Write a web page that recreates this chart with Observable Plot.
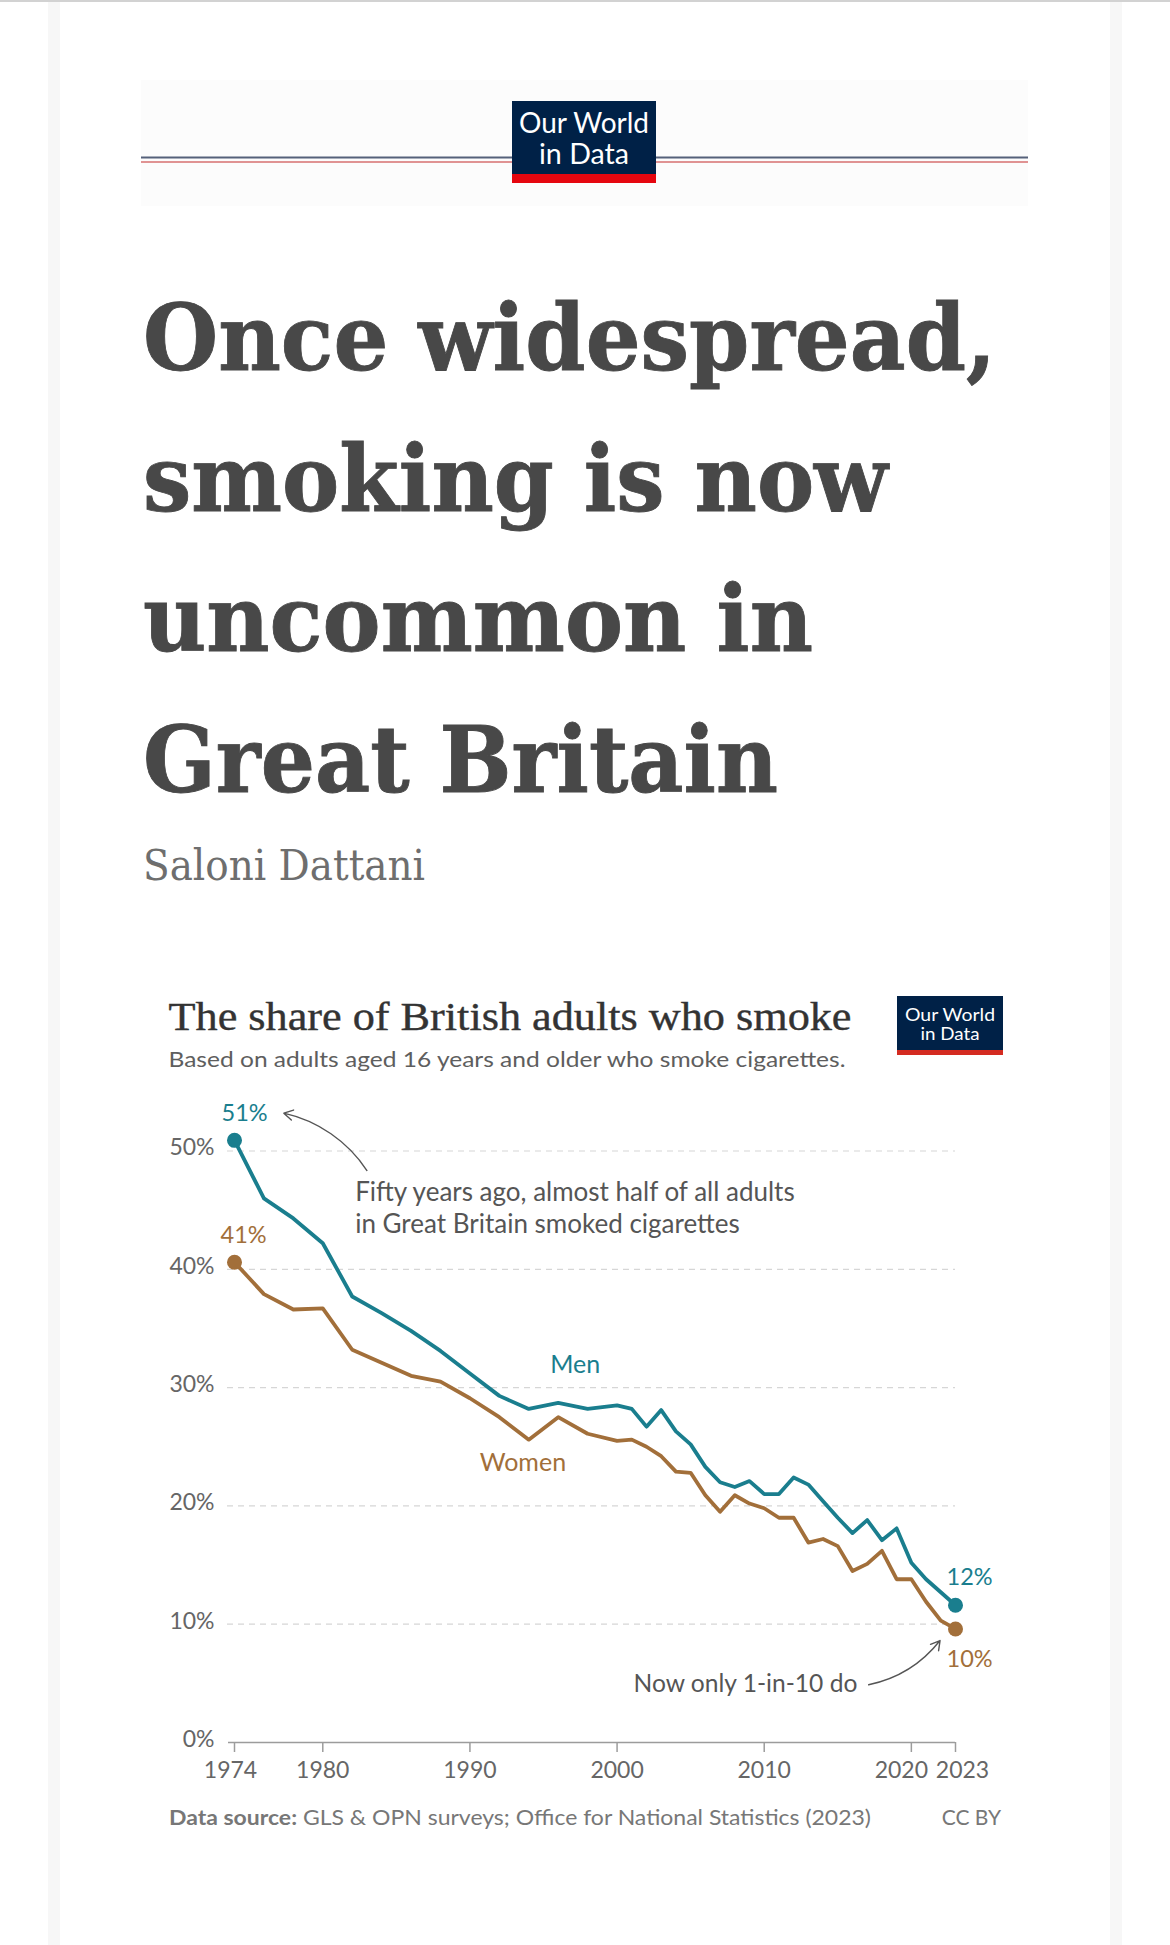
<!DOCTYPE html>
<html>
<head>
<meta charset="utf-8">
<script src="https://cdn.jsdelivr.net/npm/d3@7"></script>
<script src="https://cdn.jsdelivr.net/npm/@observablehq/plot@0.6"></script>
<style>
  html, body { margin: 0; padding: 0; background: #fff; }
  #page { position: relative; width: 1170px; height: 1945px; overflow: hidden; font-family: Lato, sans-serif; }
  #bg { position: absolute; left: 0; top: 0; }
  #chart { position: absolute; left: 150px; top: 1090px; }
</style>
</head>
<body>
<div id="page">
  <svg id="bg" width="1170" height="1945" xmlns="http://www.w3.org/2000/svg">
    <rect x="0" y="0" width="1170" height="2" fill="#d2d2d2"/>
    <rect x="48" y="2" width="12" height="1943" fill="#f7f7f7"/>
    <rect x="1110" y="2" width="12" height="1943" fill="#f7f7f7"/>
    <rect x="141" y="80" width="887" height="126" fill="#fcfcfc"/>
    <line x1="141" x2="1028" y1="157.5" y2="157.5" stroke="#55617a" stroke-width="2"/>
    <line x1="141" x2="1028" y1="162" y2="162" stroke="#d77070" stroke-width="1.6"/>
    <rect x="512" y="101" width="144" height="82" fill="#002147"/>
    <rect x="512" y="174" width="144" height="9" fill="#e5060f"/>
    <text x="584" y="133" text-anchor="middle" font-family="Lato" font-size="28" fill="#fff" textLength="130" lengthAdjust="spacingAndGlyphs">Our World</text>
    <text x="584" y="164" text-anchor="middle" font-family="Lato" font-size="28" fill="#fff" textLength="90" lengthAdjust="spacingAndGlyphs">in Data</text>

    <g font-family="DejaVu Serif" font-weight="bold" font-size="92" fill="#484848" stroke="#484848" stroke-width="0.9">
      <text x="143" y="370" textLength="853" lengthAdjust="spacingAndGlyphs">Once widespread,</text>
      <text x="143" y="511" textLength="745" lengthAdjust="spacingAndGlyphs">smoking is now</text>
      <text x="143" y="651" textLength="670" lengthAdjust="spacingAndGlyphs">uncommon in</text>
      <text x="143" y="792" textLength="635" lengthAdjust="spacingAndGlyphs">Great Britain</text>
    </g>
    <text x="143" y="880" font-family="DejaVu Serif" font-size="42" fill="#6e6e6e" textLength="282" lengthAdjust="spacingAndGlyphs">Saloni Dattani</text>

    <text x="168.5" y="1029.5" font-family="Liberation Serif" font-size="41" fill="#333" stroke="#333" stroke-width="0.4" textLength="683" lengthAdjust="spacingAndGlyphs">The share of British adults who smoke</text>
    <text x="168.5" y="1066.7" font-family="Lato" font-size="21.5" fill="#5e5e5e" textLength="677" lengthAdjust="spacingAndGlyphs">Based on adults aged 16 years and older who smoke cigarettes.</text>

    <rect x="897" y="996" width="106" height="59" fill="#002147"/>
    <rect x="897" y="1050" width="106" height="5" fill="#d42b21"/>
    <text x="950" y="1021" text-anchor="middle" font-family="Lato" font-size="17" fill="#fff" textLength="90" lengthAdjust="spacingAndGlyphs">Our World</text>
    <text x="950" y="1040" text-anchor="middle" font-family="Lato" font-size="17" fill="#fff" textLength="59" lengthAdjust="spacingAndGlyphs">in Data</text>

    <text x="169" y="1825" font-family="Lato" font-size="21" fill="#777" textLength="702" lengthAdjust="spacingAndGlyphs"><tspan font-weight="bold">Data source:</tspan> GLS &amp; OPN surveys; Office for National Statistics (2023)</text>
    <text x="1001" y="1825" text-anchor="end" font-family="Lato" font-size="21" fill="#777">CC BY</text>
  </svg>
  <div id="chart"></div>
</div>
<script>
// ---- data ----
const years = [1974, 1976, 1978, 1980, 1982, 1984, 1986, 1988, 1990, 1992, 1994, 1996, 1998, 2000,
  2001, 2002, 2003, 2004, 2005, 2006, 2007, 2008, 2009, 2010, 2011, 2012, 2013, 2014, 2015, 2016,
  2017, 2018, 2019, 2020, 2021, 2022, 2023];
const menShare = [50.9, 46.0, 44.3, 42.2, 37.7, 36.3, 34.8, 33.1, 31.2, 29.3, 28.2, 28.7, 28.2, 28.5,
  28.2, 26.7, 28.1, 26.3, 25.2, 23.3, 22.0, 21.6, 22.1, 21.0, 21.0, 22.4, 21.8, 20.4, 19.0, 17.7,
  18.8, 17.1, 18.1, 15.2, 13.8, 12.7, 11.6];
const womenShare = [40.6, 37.9, 36.6, 36.7, 33.2, 32.1, 31.0, 30.5, 29.1, 27.5, 25.6, 27.5, 26.1, 25.5,
  25.6, 25.0, 24.2, 22.9, 22.8, 20.9, 19.5, 20.9, 20.2, 19.8, 19.0, 19.0, 16.9, 17.2, 16.6, 14.5,
  15.1, 16.2, 13.8, 13.8, 11.9, 10.3, 9.6];
const seriesNames = ["Men", "Women"];
const xTickYears = [1974, 1980, 1990, 2000, 2010, 2020, 2023];
const yTickValues = [0, 10, 20, 30, 40, 50];

// annotation anchors, in data units (year, percent)
const seriesLabelYears = [1997.15, 1993.6];
const seriesLabelValues = [31.9, 23.6];
const noteTexts = ["Fifty years ago, almost half of all adults\nin Great Britain smoked cigarettes", "Now only 1-in-10 do"];
const noteYears = [1982.2, 2016.33];
const noteValues = [45.3, 4.96];
const arrowFrom = [[1983.0, 48.35], [2017.1, 4.88]];
const arrowTo = [[1977.35, 53.2], [2021.95, 8.62]];

// ---- build ----
const colors = {Men: "#1a7e8e", Women: "#a26f3a"};
const men = years.map((year, i) => ({year, value: menShare[i]}));
const women = years.map((year, i) => ({year, value: womenShare[i]}));
const ends = s => [s[0], s[s.length - 1]];
const pct = d => Math.round(d.value) + "%";

const labelData = seriesNames.map((name, i) => ({name, year: seriesLabelYears[i], value: seriesLabelValues[i]}));
const notes = noteTexts.map((text, i) => ({text, year: noteYears[i], value: noteValues[i]}));
const arrows = arrowFrom.map((f, i) => ({x1: f[0], y1: f[1], x2: arrowTo[i][0], y2: arrowTo[i][1]}));

const chart = Plot.plot({
  width: 850,
  height: 720,
  marginLeft: 84,
  marginRight: 45,
  marginTop: 60.5,
  marginBottom: 68,
  x: {domain: [1974, 2023]},
  y: {domain: [0, 50]},
  style: {fontFamily: "Lato, sans-serif", fontSize: "22px", background: "transparent", overflow: "visible", color: "#666"},
  marks: [
    Plot.gridY(yTickValues.filter(d => d > 0), {stroke: "#d6d6d6", strokeOpacity: 1, strokeDasharray: "6,5", strokeWidth: 1.2, insetLeft: -7}),
    Plot.ruleY([0], {stroke: "#9c9c9c", strokeWidth: 1.5, insetLeft: -6}),
    Plot.axisY(yTickValues, {tickSize: 0, tickPadding: 20, tickFormat: d => d + "%", fontSize: 23, fill: "#666", dy: -3, label: null}),
    Plot.axisX(xTickYears, {tickSize: 10, stroke: "#9c9c9c", strokeWidth: 1.5, tickFormat: () => "", label: null}),
    Plot.text(xTickYears.filter(d => d !== 2020 && d !== 2023 && d !== 1974), {x: d => d, text: d => String(d), frameAnchor: "bottom", dy: 35, fontSize: 23, fill: "#666"}),
    Plot.text([1974], {x: d => d, text: d => String(d), frameAnchor: "bottom", dy: 35, dx: -4, fontSize: 23, fill: "#666"}),
    Plot.text([2020], {x: d => d, text: d => String(d), frameAnchor: "bottom", dy: 35, dx: -10, fontSize: 23, fill: "#666"}),
    Plot.text([2023], {x: d => d, text: d => String(d), frameAnchor: "bottom", dy: 35, dx: 7, fontSize: 23, fill: "#666"}),

    Plot.line(women, {x: "year", y: "value", stroke: colors.Women, strokeWidth: 3.8, strokeLinejoin: "round"}),
    Plot.line(men, {x: "year", y: "value", stroke: colors.Men, strokeWidth: 3.8, strokeLinejoin: "round"}),
    Plot.dot(ends(women), {x: "year", y: "value", r: 7.5, fill: colors.Women}),
    Plot.dot(ends(men), {x: "year", y: "value", r: 7.5, fill: colors.Men}),

    Plot.text([men[0]], {x: "year", y: "value", text: pct, dx: -13, dy: -27, textAnchor: "start", fontSize: 23.5, fill: colors.Men}),
    Plot.text([women[0]], {x: "year", y: "value", text: pct, dx: -14, dy: -27, textAnchor: "start", fontSize: 23.5, fill: colors.Women}),
    Plot.text([men[men.length - 1]], {x: "year", y: "value", text: pct, dx: -9, dy: -28, textAnchor: "start", fontSize: 23.5, fill: colors.Men}),
    Plot.text([women[women.length - 1]], {x: "year", y: "value", text: pct, dx: -9, dy: 31, textAnchor: "start", fontSize: 23.5, fill: colors.Women}),

    Plot.text(labelData, {x: "year", y: "value", text: "name", fill: d => colors[d.name], fontSize: 25, textAnchor: "middle"}),

    Plot.text([notes[0]], {x: "year", y: "value", text: "text", textAnchor: "start", lineAnchor: "middle", lineHeight: 1.22, fontSize: 26, fill: "#555"}),
    Plot.text([notes[1]], {x: "year", y: "value", text: "text", textAnchor: "end", lineAnchor: "middle", fontSize: 24.6, fill: "#555"}),

    Plot.arrow([arrows[0]], {x1: "x1", y1: "y1", x2: "x2", y2: "y2", bend: -22, stroke: "#555", strokeWidth: 1.4, headLength: 11}),
    Plot.arrow([arrows[1]], {x1: "x1", y1: "y1", x2: "x2", y2: "y2", bend: -20, stroke: "#555", strokeWidth: 1.4, headLength: 11})
  ]
});
chart.style.fill = "#666";
document.getElementById("chart").appendChild(chart);
</script>
</body>
</html>
